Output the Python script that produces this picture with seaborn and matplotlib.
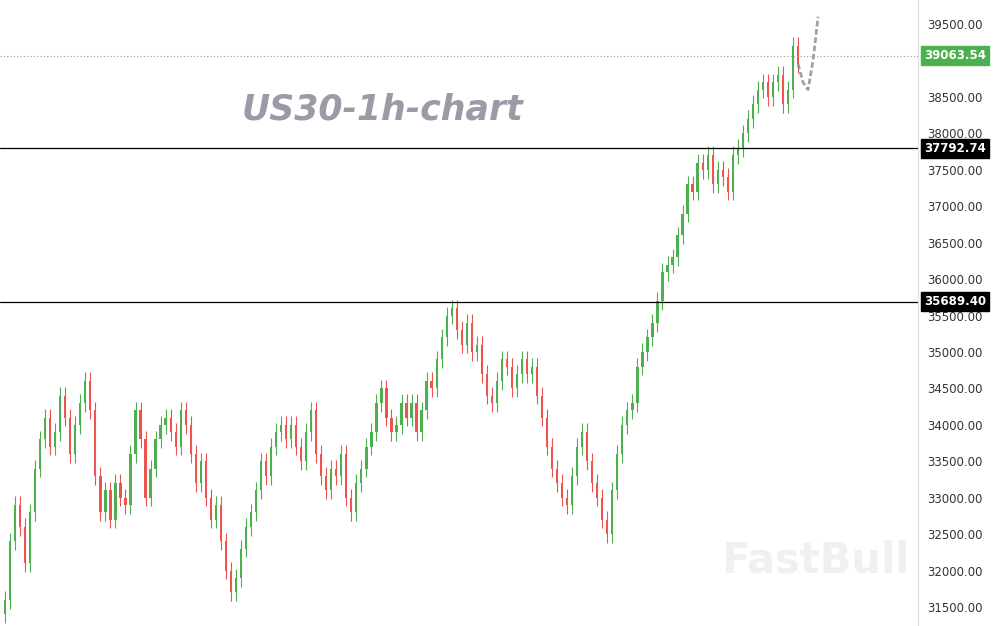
import matplotlib
matplotlib.use("Agg")
import matplotlib.pyplot as plt
import seaborn as sns
import numpy as np

# hourly closes (approx.)
closes = [
    31600, 32400, 32900, 32600, 32100, 32800, 33400, 33800,
    34100, 33700, 33900, 34400, 34100, 33600, 34000, 34300,
    34600, 34200, 33300, 32800, 33100, 32700, 33200, 33000,
    32900, 33600, 34200, 33800, 33000, 33400, 33800, 34000,
    34100, 33900, 33700, 34200, 34000, 33600, 33200, 33500,
    33000, 32700, 32900, 32400, 32000, 31700, 31900, 32300,
    32600, 32800, 33100, 33500, 33300, 33700, 33900, 34000,
    33800, 34000, 33700, 33500, 33900, 34200, 33600, 33300,
    33100, 33400, 33300, 33600, 33000, 32800, 33200, 33400,
    33700, 33900, 34300, 34500, 34100, 33900, 34000, 34300,
    34100, 34300, 33900, 34200, 34600, 34500, 34900, 35200,
    35500, 35600, 35300, 35100, 35400, 35000, 35100, 34700,
    34400, 34300, 34600, 34900, 34800, 34500, 34700, 34900,
    34700, 34800, 34400, 34100, 33700, 33400, 33200, 33000,
    32900, 33300, 33700, 33900, 33500, 33200, 33000, 32700,
    32500, 33100, 33600, 34000, 34200, 34300, 34800, 35000,
    35200, 35400, 35700, 36100, 36200, 36300, 36600, 36900,
    37300, 37200, 37600, 37500, 37700, 37300, 37500, 37400,
    37200, 37700, 37800, 38000, 38200, 38400, 38600, 38700,
    38500, 38700, 38800, 38400, 38600, 39200, 38950,
]
first_open = 31400
projection = [38950, 38700, 38600, 39000, 39600]
levels = [37792.74, 35689.40]
last_price = 39063.54
# 39000 is hidden behind the last-price tag
yticks = [t for t in range(31500, 40000, 500) if t != 39000]

sns.set_style("white")
fig = plt.figure(figsize=(9.94, 6.26), dpi=100)
ax = fig.add_axes([0, 0, 0.924, 1])

opens = [first_open] + closes[:-1]
up_col, down_col = "#4caf50", "#ef5350"
for i, (o, c) in enumerate(zip(opens, closes)):
    col = up_col if c >= o else down_col
    lo, hi = min(o, c), max(o, c)
    ax.vlines(i, lo - 120, hi + 120, color=col, lw=0.8)
    ax.bar(i, max(hi - lo, 15), bottom=lo, width=0.45, color=col, lw=0)

px = np.arange(len(closes) - 1, len(closes) - 1 + len(projection))
ax.plot(px, projection, color="#888888", lw=2, ls=(0, (2, 1)), alpha=0.8)

for lv in levels:
    ax.axhline(lv, color="black", lw=0.9)
ax.axhline(last_price, color="#999999", lw=0.8, ls=(0, (1, 2)))

ax.set_xlim(-1, 182)
ax.set_ylim(31240, 39830)
ax.set_xticks([])
ax.yaxis.tick_right()
ax.set_yticks(yticks)
ax.set_yticklabels([f"{t:.2f}" for t in yticks], fontsize=8.5, color="#333333")
ax.tick_params(axis="y", length=0, pad=6)
for s in ["top", "left", "bottom"]:
    ax.spines[s].set_visible(False)
ax.spines["right"].set_color("#dddddd")

def tag(y, text, bg):
    ax.annotate(text, xy=(1, y), xycoords=("axes fraction", "data"),
                xytext=(4, 0), textcoords="offset points", va="center", ha="left",
                fontsize=8.5, fontweight="bold", color="white",
                bbox=dict(boxstyle="square,pad=0.25", fc=bg, ec=bg))

tag(levels[0], "37792.74", "black")
tag(levels[1], "35689.40", "black")
tag(last_price, "39063.54", "#4caf50")

fig.text(0.385, 0.825, "US30-1h-chart", fontsize=25, fontstyle="italic",
         fontweight="bold", color="#9a9ba6", ha="center", va="center")
fig.text(0.82, 0.105, "FastBull", fontsize=30, fontweight="bold",
         color="#f0f0f0", ha="center", va="center")

fig.savefig("out.png", dpi=100)
